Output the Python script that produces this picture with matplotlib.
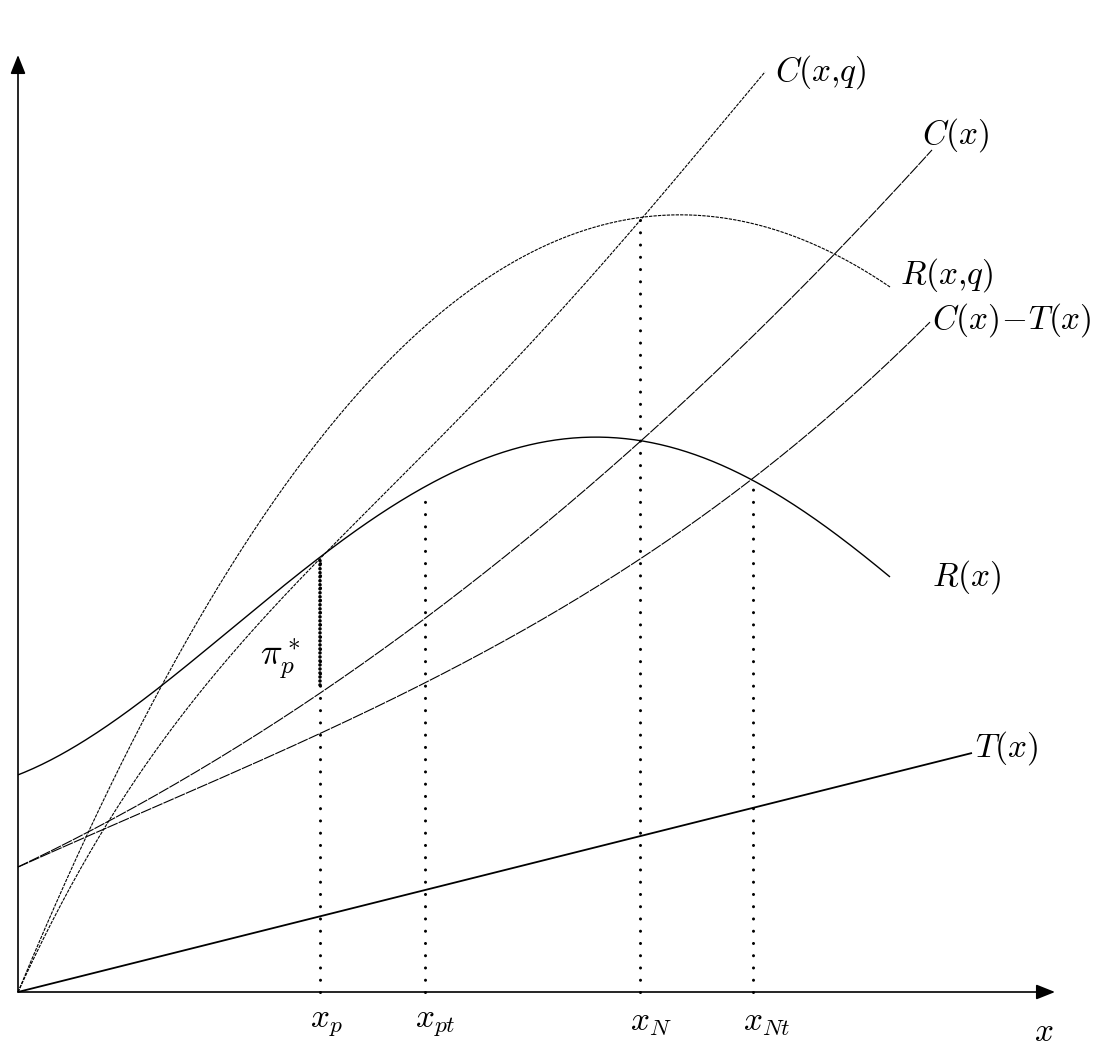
import numpy as np
import matplotlib
matplotlib.use("Agg")
import matplotlib.pyplot as plt

plt.rcParams['mathtext.fontset'] = 'cm'
plt.rcParams['font.family'] = ['DejaVu Serif']

# ---- data (units: px from origin) ----
T_x = [0, 302, 954]
T_y = [0, 76, 239]

C_x = [0, 99, 292, 392, 495, 622, 782, 914]
C_y = [125, 177, 292, 362, 442, 549, 705, 842]

CT_x = [0, 82, 302, 392, 632, 735, 782, 912]
CT_y = [125, 159, 257, 304, 442, 512, 549, 670]

R_x = [0, 70, 142, 252, 302, 352, 402, 452, 482, 572, 622, 735, 782, 872]
R_y = [217, 258, 304, 389, 435, 475, 505, 529, 537, 554, 549, 512, 485, 415]

Rq_x = [0, 65, 142, 232, 282, 349, 415, 499, 615, 662, 782, 872]
Rq_y = [0, 142, 305, 459, 529, 605, 672, 732, 774, 777, 754, 705]

Cq_x = [0, 99, 175, 252, 302, 352, 444, 622, 747]
Cq_y = [0, 177, 292, 389, 435, 480, 572, 775, 920]

mark_x = [302, 407, 622, 735]
mark_top = [435, 495, 777, 512]
mark_labels = [r'$x_p$', r'$x_{pt}$', r'$x_N$', r'$x_{Nt}$']
profit_bottom = 307   # lower end of the pi_p^* segment at x_p

x_axis_end = 1037
y_axis_end = 937


def smooth_curve(xs, ys, deg):
    """Least-squares polynomial through the read points, for drawing."""
    xs = np.asarray(xs, float)
    ys = np.asarray(ys, float)
    w = np.ones_like(xs)
    w[0] = w[-1] = 4.0
    p = np.polynomial.Polynomial.fit(xs, ys, deg, w=w)
    xx = np.linspace(xs[0], xs[-1], 400)
    return xx, p(xx)


fig = plt.figure(figsize=(11.06, 10.49), dpi=100)
ax = fig.add_axes([0, 0, 1, 1])
ax.set_xlim(-18, 1088)
ax.set_ylim(-57, 992)
ax.axis('off')

# axes with arrows
for end in [(x_axis_end, 0), (0, y_axis_end)]:
    ax.annotate('', xy=end, xytext=(0, 0),
                arrowprops=dict(arrowstyle='-|>,head_length=0.5,head_width=0.2',
                                mutation_scale=23, lw=1.2, color='k',
                                shrinkA=0, shrinkB=0))

curves = [
    (T_x, T_y, 1, dict(lw=1.3, ls='-')),
    (C_x, C_y, 3, dict(lw=0.8, ls=(0, (10, 1)))),
    (CT_x, CT_y, 3, dict(lw=0.8, ls=(0, (10, 1)))),
    (R_x, R_y, 5, dict(lw=1.0, ls='-')),
    (Rq_x, Rq_y, 4, dict(lw=0.8, ls=(0, (3, 1)))),
    (Cq_x, Cq_y, 4, dict(lw=0.8, ls=(0, (3, 1)))),
]
for xs, ys, deg, st in curves:
    xx, yy = smooth_curve(xs, ys, deg)
    ax.plot(xx, yy, color='black', solid_capstyle='butt', **st)

# vertical dotted lines
for xm, top in zip(mark_x, mark_top):
    ax.plot([xm, xm], [0, top], color='black', lw=2.2,
            ls=(0, (0.01, 4.0)), dash_capstyle='round')
# bold profit segment
ax.plot([mark_x[0], mark_x[0]], [profit_bottom, mark_top[0]], color='black',
        lw=2.6, ls=(0, (0.01, 1.1)), dash_capstyle='round')

fs = 24
for xm, lab in zip(mark_x, mark_labels):
    ax.annotate(lab, xy=(xm, 0), xytext=(-10, -30), textcoords='offset pixels',
                ha='left', va='center', fontsize=fs)
ax.annotate(r'$x$', xy=(x_axis_end, 0), xytext=(-2, -40), textcoords='offset pixels',
            ha='right', va='center', fontsize=fs)

labels = [
    (r'$C(x{,}q)$', Cq_x[-1], Cq_y[-1], (10, 0)),
    (r'$C(x)$', C_x[-1], C_y[-1], (-10, 15)),
    (r'$R(x{,}q)$', Rq_x[-1], Rq_y[-1], (10, 12)),
    (r'$C(x)\!-\!T(x)$', CT_x[-1], CT_y[-1], (2, 2)),
    (r'$R(x)$', R_x[-1], R_y[-1], (42, 0)),
    (r'$T(x)$', T_x[-1], T_y[-1], (3, 5)),
]
for lab, x0, y0, off in labels:
    ax.annotate(lab, xy=(x0, y0), xytext=off, textcoords='offset pixels',
                ha='left', va='center', fontsize=fs)

ax.annotate(r'$\pi_p^*$', xy=(mark_x[0], (profit_bottom + mark_top[0]) / 2),
            xytext=(-20, -38), textcoords='offset pixels',
            ha='right', va='center', fontsize=fs + 2)

fig.savefig('out.png', dpi=100)
